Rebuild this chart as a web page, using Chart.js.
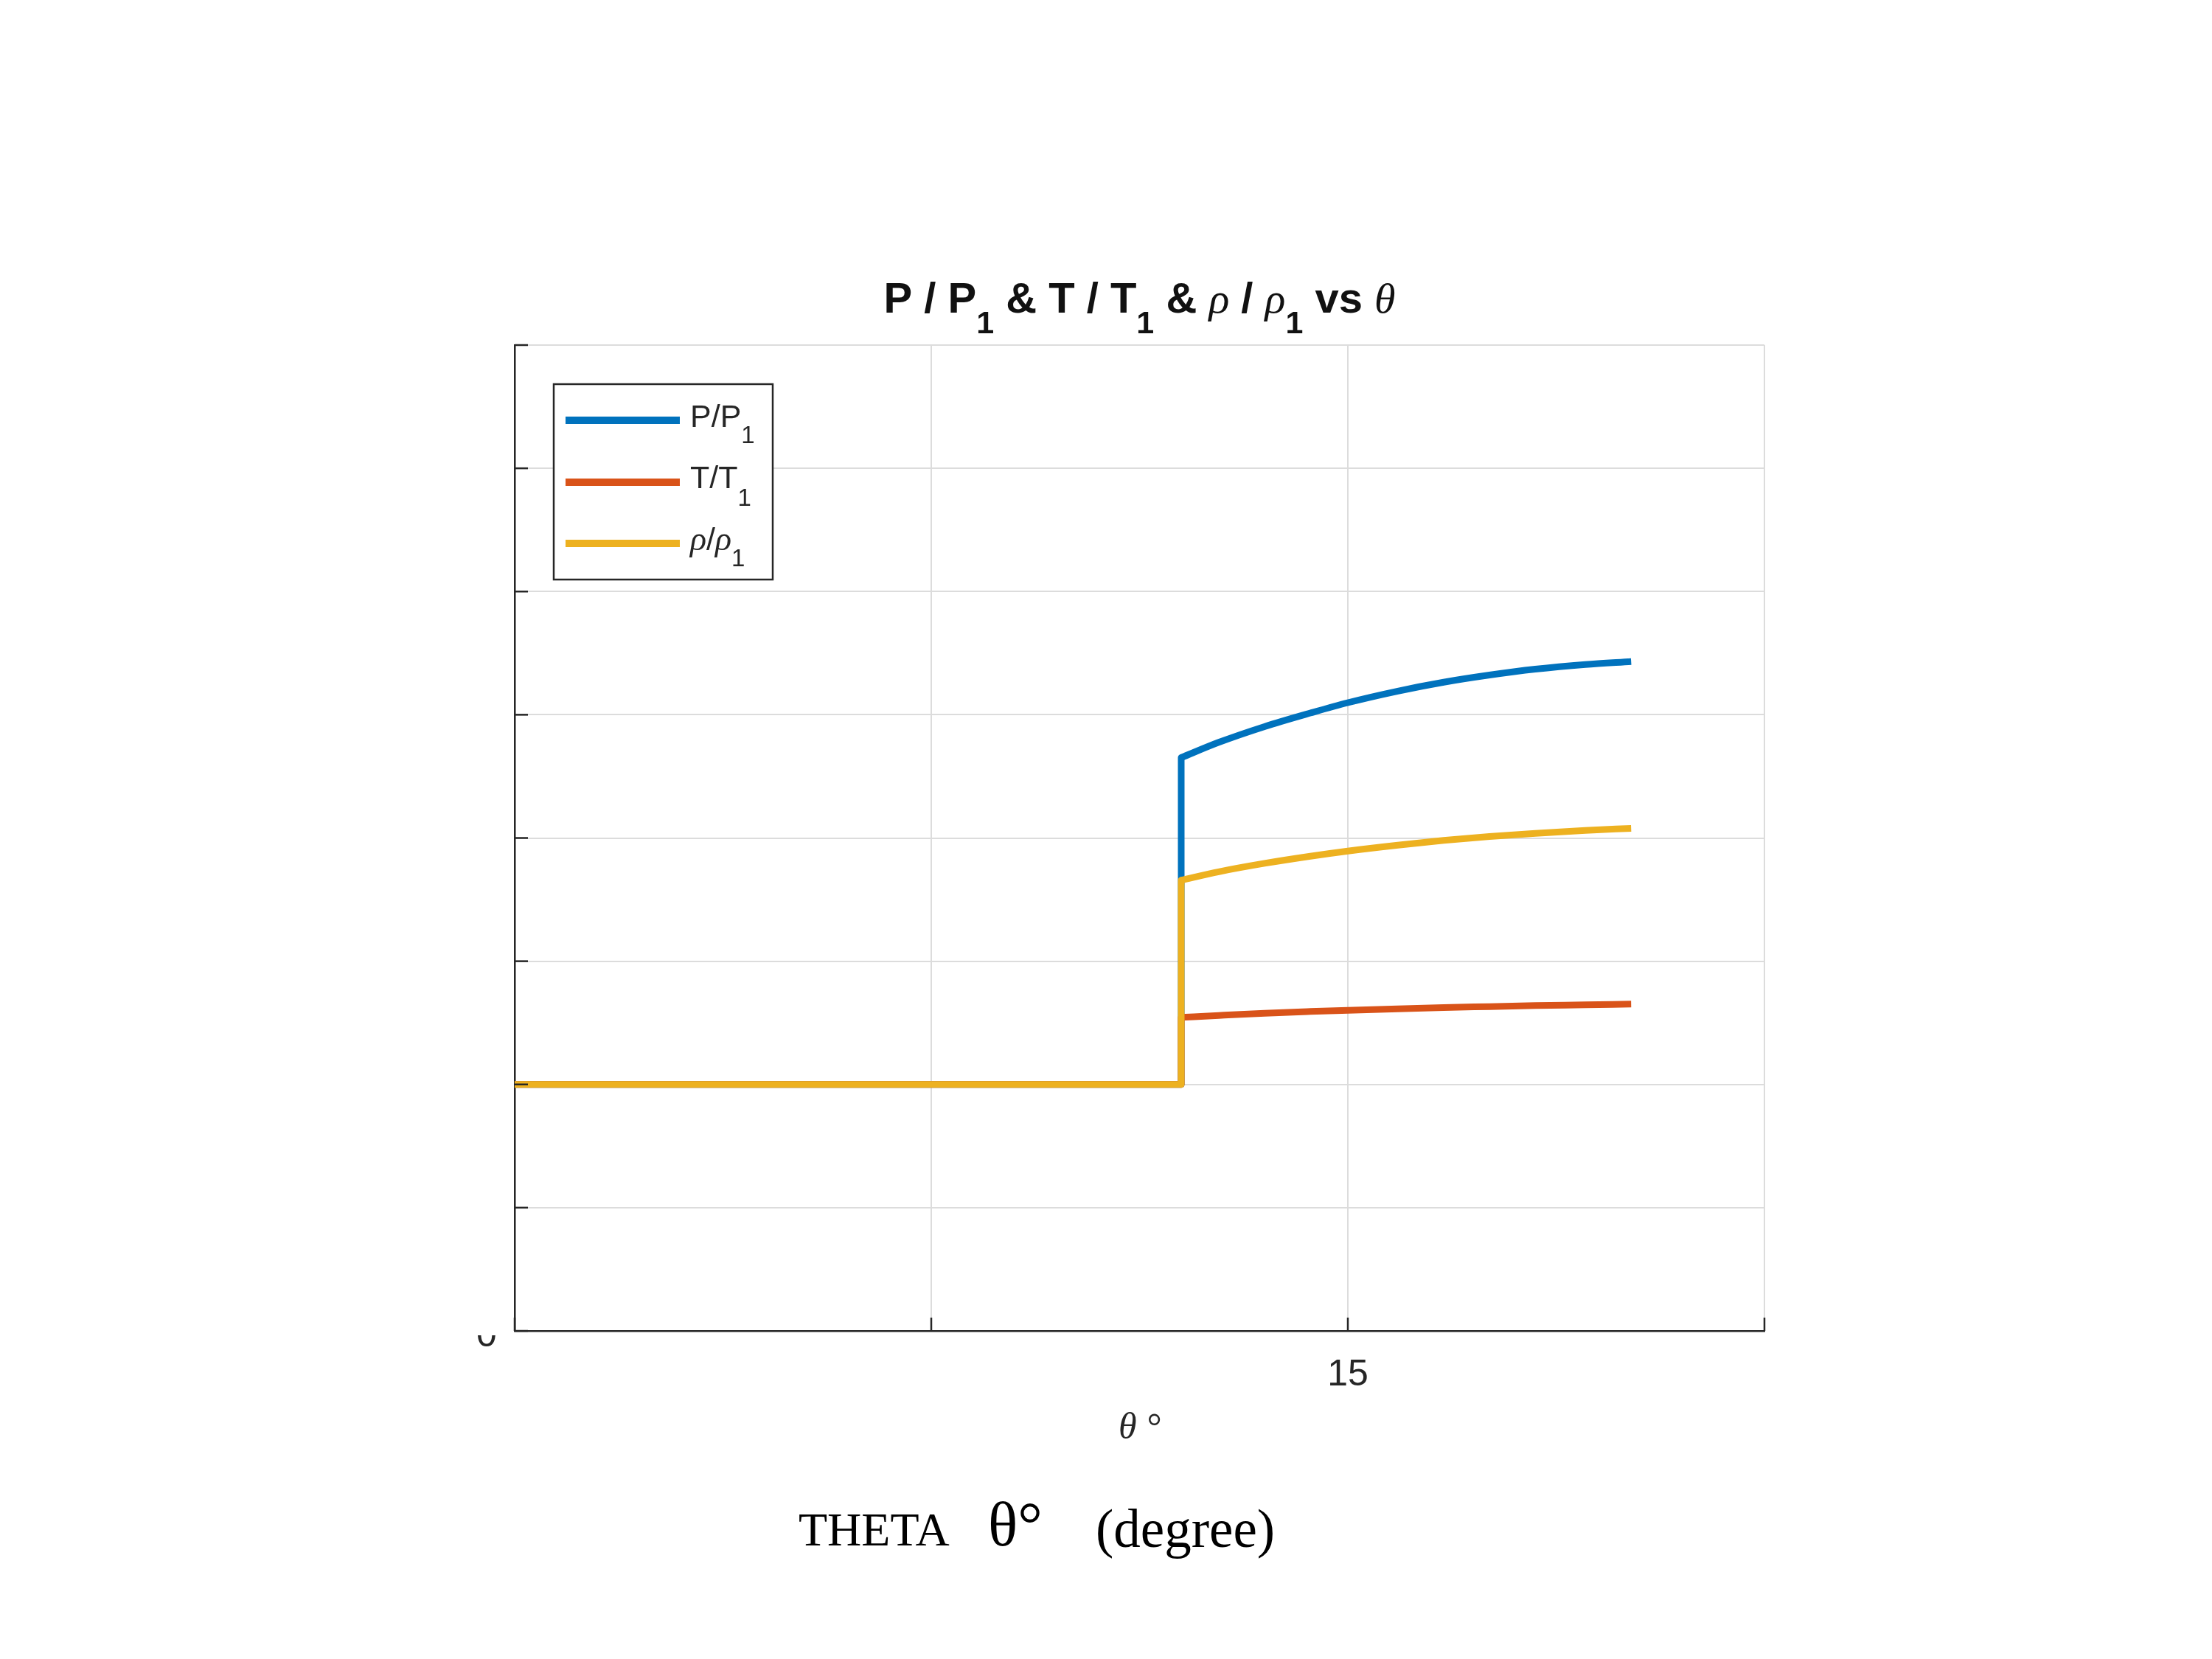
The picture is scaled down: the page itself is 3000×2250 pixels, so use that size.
<!DOCTYPE html>
<html>
<head>
<meta charset="utf-8">
<script src="https://cdn.jsdelivr.net/npm/chart.js@4.4.1/dist/chart.umd.min.js"></script>
<style>
  html, body { margin: 0; padding: 0; background: #ffffff; }
  canvas { display: block; }
</style>
</head>
<body>
<canvas id="shockChart" width="3000" height="2250"></canvas>
<script>
// valores (theta en grados, razones adimensionales)
const theta    = [5, 13, 13, 13.45, 14, 14.55, 15, 15.6, 16.15, 16.7, 17.25, 17.85, 18.4];
const pRatio   = [1, 1, 2.326, 2.388, 2.452, 2.507, 2.549, 2.596, 2.632, 2.661, 2.685, 2.704, 2.716];
const tRatio   = [1, 1, 1.272, 1.280, 1.289, 1.296, 1.301, 1.307, 1.312, 1.316, 1.320, 1.323, 1.326];
const rhoRatio = [1, 1, 1.829, 1.863, 1.897, 1.926, 1.947, 1.971, 1.990, 2.006, 2.019, 2.031, 2.039];

const xTicks = [5, 10, 15, 20];
const xLabels = ['', '', '15', ''];
const yMin = 0, yMax = 4, yStep = 0.5;

const AXIS = '#262626';
const COLORS = ['#0072BD', '#D95319', '#EDB120'];
const JUMP = 2; // indice del punto despues del choque

function puntos(ys, desde, hasta) {
    return theta.slice(desde, hasta).map((t, i) => ({ x: t, y: ys[desde + i] }));
}

// dibuja texto con partes (subindices, griegas)
function textoRico(ctx, partes, x, base, centrado) {
    let ancho = 0;
    partes.forEach(p => { ctx.font = p.font; ancho += ctx.measureText(p.t).width; });
    let cx = centrado ? x - ancho / 2 : x;
    ctx.textAlign = 'left';
    ctx.textBaseline = 'alphabetic';
    partes.forEach(p => {
        ctx.font = p.font;
        ctx.fillText(p.t, cx, base + (p.dy || 0));
        cx += ctx.measureText(p.t).width;
    });
}

const decor = {
    id: 'decor',
    afterDraw(chart) {
        const ctx = chart.ctx;
        const a = chart.chartArea;
        const xs = chart.scales.x, ys = chart.scales.y;
        ctx.save();
        ctx.fillStyle = AXIS;
        ctx.strokeStyle = AXIS;
        ctx.lineWidth = 2.5;

        // marcas hacia adentro
        ys.ticks.forEach(t => {
            const y = ys.getPixelForValue(t.value);
            ctx.beginPath(); ctx.moveTo(a.left, y); ctx.lineTo(a.left + 18, y); ctx.stroke();
        });
        xs.ticks.forEach(t => {
            const x = xs.getPixelForValue(t.value);
            ctx.beginPath(); ctx.moveTo(x, a.bottom); ctx.lineTo(x, a.bottom - 18); ctx.stroke();
        });

        // el "0" del eje y aparece recortado arriba
        ctx.save();
        ctx.beginPath(); ctx.rect(0, a.bottom + 6, a.left - 5, 80); ctx.clip();
        ctx.font = '50px "Liberation Sans"';
        ctx.textAlign = 'center';
        ctx.textBaseline = 'alphabetic';
        ctx.fillText('0', a.left - 38, ys.getPixelForValue(0) + 21);
        ctx.restore();

        // titulo
        ctx.fillStyle = '#111111';
        const B = 'bold 58px "Liberation Sans"';
        const S = 'bold 43px "Liberation Sans"';
        const G = 'italic 58px "Liberation Serif"';
        textoRico(ctx, [
            { t: 'P / P', font: B }, { t: '1', font: S, dy: 28 },
            { t: ' & T / T', font: B }, { t: '1', font: S, dy: 28 },
            { t: ' & ', font: B }, { t: 'ρ', font: G }, { t: ' / ', font: B },
            { t: 'ρ', font: G }, { t: '1', font: S, dy: 28 },
            { t: ' vs ', font: B }, { t: 'θ', font: G }
        ], (a.left + a.right) / 2, 424, true);

        // leyenda
        const lx = 751, ly = 521, lw = 297, lh = 265;
        ctx.fillStyle = '#ffffff';
        ctx.fillRect(lx, ly, lw, lh);
        ctx.strokeStyle = AXIS;
        ctx.lineWidth = 2.5;
        ctx.strokeRect(lx, ly, lw, lh);
        const filas = [570, 654, 737];
        const F = '43px "Liberation Sans"', FS = '33px "Liberation Sans"', FG = 'italic 46px "Liberation Serif"';
        const textos = [
            [{ t: 'P/P', font: F }, { t: '1', font: FS, dy: 22 }],
            [{ t: 'T/T', font: F }, { t: '1', font: FS, dy: 24 }],
            [{ t: 'ρ', font: FG }, { t: '/', font: F }, { t: 'ρ', font: FG }, { t: '1', font: FS, dy: 22 }]
        ];
        const bases = [579, 662, 746];
        filas.forEach((y, i) => {
            ctx.strokeStyle = COLORS[i];
            ctx.lineWidth = 10;
            ctx.beginPath(); ctx.moveTo(767, y); ctx.lineTo(922, y); ctx.stroke();
            ctx.fillStyle = AXIS;
            textoRico(ctx, textos[i], 936, bases[i], false);
        });

        // texto inferior
        ctx.fillStyle = '#000000';
        ctx.textAlign = 'left';
        ctx.font = '64px "Liberation Serif"';
        ctx.fillText('THETA', 1083, 2096);
        ctx.font = '84px "Liberation Serif"';
        ctx.fillText('θ°', 1340, 2096);
        ctx.font = '73px "Liberation Serif"';
        ctx.fillText('(degree)', 1486, 2098);
        ctx.restore();
    }
};

document.addEventListener('DOMContentLoaded', function () {
    const ctx = document.getElementById('shockChart').getContext('2d');
    const series = [
        { label: 'P/P1', ys: pRatio, color: COLORS[0], order: 3 },
        { label: 'T/T1', ys: tRatio, color: COLORS[1], order: 2 },
        { label: 'rho/rho1', ys: rhoRatio, color: COLORS[2], order: 1 }
    ];

    const datasets = [];
    series.forEach(s => {
        // tramo antes del choque + salto vertical
        datasets.push({
            label: s.label,
            data: puntos(s.ys, 0, JUMP + 1),
            borderColor: s.color,
            borderWidth: 9,
            borderJoinStyle: 'round',
            borderCapStyle: 'round',
            pointRadius: 0,
            tension: 0,
            order: s.order
        });
        // tramo despues del choque
        datasets.push({
            label: s.label,
            data: puntos(s.ys, JUMP),
            borderColor: s.color,
            borderWidth: 9,
            borderJoinStyle: 'round',
            borderCapStyle: 'butt',
            pointRadius: 0,
            cubicInterpolationMode: 'monotone',
            order: s.order + 0.5
        });
    });

    new Chart(ctx, {
        type: 'line',
        data: { datasets: datasets },
        options: {
            responsive: false,
            devicePixelRatio: 1,
            animation: false,
            layout: { padding: { top: 468, right: 607, left: 0, bottom: 0 } },
            plugins: {
                legend: { display: false },
                tooltip: { enabled: false },
                title: { display: false }
            },
            scales: {
                x: {
                    type: 'linear',
                    min: xTicks[0],
                    max: xTicks[xTicks.length - 1],
                    afterBuildTicks: s => { s.ticks = xTicks.map(v => ({ value: v })); },
                    afterFit: s => { s.height = 445; },
                    ticks: {
                        padding: 30,
                        color: AXIS,
                        font: { family: 'Liberation Sans', size: 50 },
                        maxRotation: 0,
                        callback: v => xLabels[xTicks.indexOf(v)] ?? ''
                    },
                    grid: { color: '#dcdcdc', lineWidth: 2, drawTicks: false },
                    border: { display: true, color: AXIS, width: 2.5 },
                    title: {
                        display: true,
                        text: 'θ °',
                        color: AXIS,
                        font: { family: 'Liberation Serif', style: 'italic', size: 50 },
                        padding: { top: 0, bottom: 282 }
                    }
                },
                y: {
                    min: yMin,
                    max: yMax,
                    afterFit: s => { s.width = 698; },
                    ticks: { display: false, stepSize: yStep },
                    grid: { color: '#dcdcdc', lineWidth: 2, drawTicks: false },
                    border: { display: true, color: AXIS, width: 2.5 }
                }
            }
        },
        plugins: [decor]
    });
});
</script>
</body>
</html>
